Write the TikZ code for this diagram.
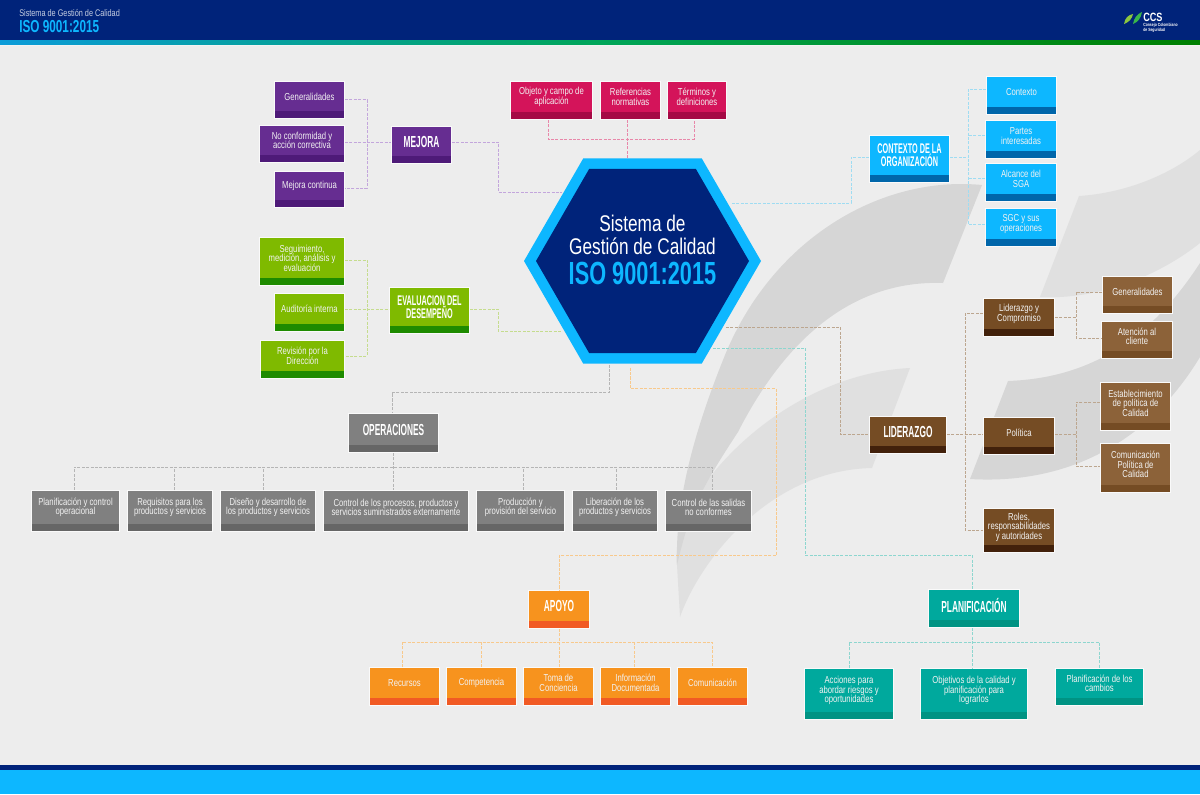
\documentclass[tikz,border=0pt]{standalone}
\usepackage{fontspec}
\usetikzlibrary{shapes.geometric, calc}
\setmainfont{Liberation Sans}
\newfontfamily\boxfont[FakeStretch=0.76]{Liberation Sans}
\newfontfamily\headfont[FakeStretch=0.52]{Liberation Sans}
\newfontfamily\hexfont[FakeStretch=0.76]{Liberation Sans}
\newfontfamily\isofont[FakeStretch=0.68]{Liberation Sans}
\definecolor{navy}{RGB}{0, 35, 122}
\definecolor{sky}{RGB}{13, 183, 255}
\definecolor{paper}{RGB}{237, 237, 237}
\definecolor{swooshdark}{RGB}{214, 214, 214}
\definecolor{swooshlight}{RGB}{224, 224, 224}
\definecolor{boxedge}{RGB}{250, 250, 250}
\definecolor{boxtext}{RGB}{242, 242, 242}
\definecolor{purplefill}{RGB}{102, 45, 145}
\definecolor{purpleband}{RGB}{78, 26, 120}
\definecolor{purpleline}{RGB}{195, 166, 220}
\definecolor{greenfill}{RGB}{127, 186, 0}
\definecolor{greenband}{RGB}{30, 139, 0}
\definecolor{greenline}{RGB}{197, 220, 142}
\definecolor{pinkfill}{RGB}{212, 20, 90}
\definecolor{pinkband}{RGB}{165, 10, 69}
\definecolor{pinkline}{RGB}{232, 135, 169}
\definecolor{skyband}{RGB}{0, 102, 170}
\definecolor{skyline}{RGB}{159, 220, 242}
\definecolor{brownfill}{RGB}{117, 76, 36}
\definecolor{brownband}{RGB}{66, 33, 11}
\definecolor{tanfill}{RGB}{140, 98, 57}
\definecolor{brownline}{RGB}{188, 166, 143}
\definecolor{grayfill}{RGB}{128, 128, 128}
\definecolor{grayband}{RGB}{102, 102, 102}
\definecolor{grayline}{RGB}{181, 181, 181}
\definecolor{orangefill}{RGB}{247, 147, 30}
\definecolor{orangeband}{RGB}{241, 90, 36}
\definecolor{orangeline}{RGB}{248, 201, 140}
\definecolor{tealfill}{RGB}{0, 169, 157}
\definecolor{tealband}{RGB}{0, 147, 131}
\definecolor{tealline}{RGB}{141, 214, 207}
\definecolor{logolime}{RGB}{140, 198, 63}
\definecolor{logogreen}{RGB}{57, 181, 74}

\begin{document}
\begin{tikzpicture}[x=0.75pt, y=-0.75pt,
    box/.style 2 args={anchor=north west, fill=#1, inner sep=0pt, outer sep=0pt, align=center,
                text=boxtext, font=\boxfont\fontsize{7.6}{7.2}\selectfont,
                append after command={\pgfextra{
                    \fill[boxedge] ([xshift=-0.5pt,yshift=0.5pt]\tikzlastnode.north west) rectangle ([xshift=0.5pt,yshift=-5.75pt]\tikzlastnode.south east);
                    \fill[#2] (\tikzlastnode.south west) rectangle ([yshift=-5.25pt]\tikzlastnode.south east);}}},
    wh/.style 2 args={minimum width=#1*0.75pt, minimum height=#2*0.75pt},
    head/.style={text=white, font=\headfont\bfseries\fontsize{12}{9.6}\selectfont},
    headtwo/.style={text=white, font=\headfont\bfseries\fontsize{10.5}{9.6}\selectfont},
    purplebox/.style={box={purplefill}{purpleband}},
    greenbox/.style={box={greenfill}{greenband}},
    pinkbox/.style={box={pinkfill}{pinkband}},
    skybox/.style={box={sky}{skyband}},
    brownbox/.style={box={brownfill}{brownband}},
    tanbox/.style={box={tanfill}{brownfill}},
    graybox/.style={box={grayfill}{grayband}},
    orangebox/.style={box={orangefill}{orangeband}},
    tealbox/.style={box={tealfill}{tealband}},
    link/.style={draw=#1, line width=0.65pt, dash pattern=on 2.3pt off 1pt},
    hexa/.style={regular polygon, regular polygon sides=6, inner sep=0pt, outer sep=0pt}]

    \useasboundingbox (0,0) rectangle (1200,794);

    % Background
    \fill[paper] (0,0) rectangle (1200,794);
    \fill[swooshlight] (1079,196) .. controls (1125,193) and (1170,175) .. (1200,150) -- (1200,243)
        .. controls (1160,275) and (1100,300) .. (1040,297) -- cycle;
    \fill[swooshdark] (1008,381) .. controls (1090,378) and (1150,340) .. (1200,263) -- (1200,357)
        .. controls (1150,440) and (1070,485) .. (970,479) -- cycle;
    \fill[swooshlight] (910,368) .. controls (830,372) and (750,420) .. (700,490)
        .. controls (680,520) and (675,550) .. (677,565) -- (680,617)
        .. controls (700,560) and (770,470) .. (872,468) -- cycle;
    \fill[swooshdark] (982,185) .. controls (880,175) and (770,240) .. (723,360)
        .. controls (695,430) and (675,500) .. (677,565)
        .. controls (690,510) and (700,490) .. (738,432)
        .. controls (790,330) and (860,280) .. (943,283) -- cycle;

    % Header and footer
    \fill[navy] (0,0) rectangle (1200,40);
    \shade[left color=sky!85!black, right color=green!50!black, middle color=teal!70!green] (0,40) rectangle (1200,45);
    \fill[white!95!black] (0,45) rectangle (1200,46);
    \fill[navy] (0,765) rectangle (1200,770);
    \fill[sky] (0,770) rectangle (1200,794);
    \node[anchor=west, inner sep=0pt, text=white!78!navy, font=\hexfont\fontsize{7.2}{7.2}\selectfont] (toptitle) at (19,13) {Sistema de Gestión de Calidad};
    \node[anchor=west, inner sep=0pt, text=sky, font=\isofont\bfseries\fontsize{13}{13}\selectfont] (topiso) at (19,26.5) {ISO 9001:2015};

    % Logo
    \fill[logolime] (1124,24) .. controls (1125,18) and (1128,15) .. (1133,14) .. controls (1132,19) and (1129,22) .. cycle;
    \fill[logogreen] (1133,24) .. controls (1134,18) and (1137,14) .. (1142,12) .. controls (1141,18) and (1138,22) .. cycle;
    \node[anchor=west, inner sep=0pt, text=white, font=\boxfont\bfseries\fontsize{9}{9}\selectfont] (logoccs) at (1143,17) {CCS};
    \node[anchor=north west, inner sep=0pt, align=left, text=white, font=\boxfont\bfseries\fontsize{3.4}{3.5}\selectfont] (logosub) at (1143,23) {Consejo Colombiano\\de Seguridad};

    % Hexagon
    \node[hexa, fill=sky, minimum size=237*0.75pt] (hexo) at (642.5,261) {};
    \node[hexa, fill=navy, minimum size=213*0.75pt] (hexi) at (642.5,261) {};
    \node[align=center, inner sep=0pt, text=white, font=\hexfont\fontsize{17}{17.2}\selectfont] (hextitle) at (642.5,234.5) {Sistema de\\Gestión de Calidad};
    \node[inner sep=0pt, text=sky, font=\isofont\bfseries\fontsize{24}{24}\selectfont] (hexiso) at (642.5,273) {ISO 9001:2015};

    % Mejora
    \node[purplebox, wh={69}{29}] (gen) at (275,82) {Generalidades};
    \node[purplebox, wh={84}{29}] (nocon) at (260,126) {No conformidad y\\acción correctiva};
    \node[purplebox, wh={69}{28}] (cont) at (275,172) {Mejora continua};
    \node[purplebox, head, wh={59}{29}] (mejora) at (392,127) {MEJORA};

    % Evaluacion
    \node[greenbox, wh={84}{40}] (seg) at (260,238) {Seguimiento,\\medición, análisis y\\evaluación};
    \node[greenbox, wh={69}{30}] (aud) at (275,294) {Auditoría interna};
    \node[greenbox, wh={83}{30}] (rev) at (261,341) {Revisión por la\\Dirección};
    \node[greenbox, headtwo, wh={79}{38}] (evalu) at (390,288) {EVALUACION DEL\\DESEMPEÑO};

    % Alcance
    \node[pinkbox, wh={81}{30}] (obj) at (511,82) {Objeto y campo de\\aplicación};
    \node[pinkbox, wh={59}{30}] (ref) at (601,82) {Referencias\\normativas};
    \node[pinkbox, wh={58}{30}] (ter) at (668,82) {Términos y\\definiciones};

    % Contexto
    \node[skybox, headtwo, wh={79}{39}] (contx) at (870,136) {CONTEXTO DE LA\\ORGANIZACIÓN};
    \node[skybox, wh={69}{30}] (ctxbase) at (987,77) {Contexto};
    \node[skybox, wh={70}{30}] (ctxpart) at (986,121) {Partes\\interesadas};
    \node[skybox, wh={70}{30}] (ctxalc) at (986,164) {Alcance del\\SGA};
    \node[skybox, wh={70}{30}] (ctxsgc) at (986,209) {SGC y sus\\operaciones};

    % Liderazgo
    \node[brownbox, head, wh={76}{29}] (lider) at (870,417) {LIDERAZGO};
    \node[brownbox, wh={70}{30}] (lyc) at (984,299) {Liderazgo y\\Compromiso};
    \node[brownbox, wh={70}{29}] (pol) at (984,418) {Política};
    \node[brownbox, wh={70}{36}] (roles) at (984,509) {Roles,\\responsabilidades\\y autoridades};
    \node[tanbox, wh={69}{29}] (lgen) at (1103,277) {Generalidades};
    \node[tanbox, wh={70}{29}] (lat) at (1102,322) {Atención al\\cliente};
    \node[tanbox, wh={69}{40}] (lest) at (1101,383) {Establecimiento\\de política de\\Calidad};
    \node[tanbox, wh={69}{41}] (lcom) at (1101,444) {Comunicación\\Política de\\Calidad};

    % Operaciones
    \node[graybox, head, wh={89}{31}] (oper) at (349,414) {OPERACIONES};
    \node[graybox, wh={87}{33}] (gpla) at (32,491) {Planificación y control\\operacional};
    \node[graybox, wh={84}{33}] (greq) at (128,491) {Requisitos para los\\productos y servicios};
    \node[graybox, wh={94}{33}] (gdis) at (221,491) {Diseño y desarrollo de\\los productos y servicios};
    \node[graybox, wh={144}{33}] (gctr) at (324,491) {Control de los procesos, productos y\\servicios suministrados externamente};
    \node[graybox, wh={87}{33}] (gpro) at (477,491) {Producción y\\provisión del servicio};
    \node[graybox, wh={84}{33}] (glib) at (573,491) {Liberación de los\\productos y servicios};
    \node[graybox, wh={85}{33}] (gsal) at (666,491) {Control de las salidas\\no conformes};

    % Apoyo
    \node[orangebox, head, wh={60}{30}] (apoyo) at (529,591) {APOYO};
    \node[orangebox, wh={69}{30}] (orec) at (370,668) {Recursos};
    \node[orangebox, wh={69}{30}] (ocomp) at (447,668) {Competencia};
    \node[orangebox, wh={69}{30}] (otoma) at (524,668) {Toma de\\Conciencia};
    \node[orangebox, wh={69}{30}] (oinf) at (601,668) {Información\\Documentada};
    \node[orangebox, wh={69}{30}] (ocom) at (678,668) {Comunicación};

    % Planificacion
    \node[tealbox, head, wh={90}{30}] (plan) at (929,590) {PLANIFICACIÓN};
    \node[tealbox, wh={88}{43}] (pacc) at (805,669) {Acciones para\\abordar riesgos y\\oportunidades};
    \node[tealbox, wh={106}{43}] (pobj) at (921,669) {Objetivos de la calidad y\\planificación para\\lograrlos};
    \node[tealbox, wh={87}{29}] (pcam) at (1056,669) {Planificación de los\\cambios};

    % Links
    \draw[link=purpleline] ($(gen.east)+(1,3)$) -- ++(22,0) |- ($(cont.east)+(1,2)$);
    \draw[link=purpleline] ($(nocon.east)+(1,1.5)$) -- ($(mejora.west)+(-1,0.5)$);
    \draw[link=purpleline] ($(mejora.east)+(1,0.5)$) -- ++(46,0) |- ($(hexo.center)+(-81,-69)$);

    \draw[link=greenline] ($(seg.east)+(1,2)$) -- ++(22,0) |- ($(rev.east)+(1,0)$);
    \draw[link=greenline] ($(aud.east)+(1,0)$) -- ($(evalu.west)+(-1,2)$);
    \draw[link=greenline] ($(evalu.east)+(1,2)$) -- ++(28,0) |- ($(hexo.center)+(-81,70)$);

    \draw[link=pinkline] ($(obj.south)+(-3.5,8)$) -- ++(0,19) -| ($(ter.south)+(-3,8)$);
    \draw[link=pinkline] ($(ref.south)+(-3.5,8)$) -- ($(hexo.north)+(-15.5,0)$);

    \draw[link=skyline] ($(hexo.center)+(89.5,-58)$) -- ++(119,0) |- ($(contx.west)+(-1,1.5)$);
    \draw[link=skyline] ($(contx.east)+(1,1.5)$) -- ++(18,0);
    \draw[link=skyline] ($(ctxbase.west)+(-1,-3)$) -- ++(-18,0) |- ($(ctxsgc.west)+(-1,0)$);
    \draw[link=skyline] ($(ctxpart.west)+(-1,-1)$) -- ++(-17,0);
    \draw[link=skyline] ($(ctxalc.west)+(-1,-1)$) -- ++(-17,0);

    \draw[link=brownline] ($(hexo.center)+(83.5,66)$) -- ++(114,0) |- ($(lider.west)+(-1,2.5)$);
    \draw[link=brownline] ($(lider.east)+(1,2.5)$) -- ($(pol.west)+(-1,1.5)$);
    \draw[link=brownline] ($(lyc.west)+(-1,-1)$) -- ++(-18,0) |- ($(roles.west)+(-1,3)$);
    \draw[link=brownline] ($(lyc.east)+(1,3)$) -- ++(21,0);
    \draw[link=brownline] ($(lgen.west)+(-1,0.5)$) -- ++(-26,0) |- ($(lat.west)+(-1,1.5)$);
    \draw[link=brownline] ($(pol.east)+(1,1.5)$) -- ++(21,0);
    \draw[link=brownline] ($(lest.west)+(-1,-1)$) -- ++(-24,0) |- ($(lcom.west)+(-1,1.5)$);

    \draw[link=grayline] ($(hexo.south)+(-33.5,1)$) -- ++(0,28) -| ($(oper.north)+(-1.5,-1)$);
    \draw[link=grayline] ($(oper.south)+(-0.5,8)$) -- ($(gctr.north)+(-3,-1)$);
    \draw[link=grayline] ($(gpla.north)+(-1.5,-1)$) -- ++(0,-23) -| ($(gsal.north)+(3.5,-1)$);
    \draw[link=grayline] ($(greq.north)+(4,-1)$) -- ++(0,-23);
    \draw[link=grayline] ($(gdis.north)+(-5,-1)$) -- ++(0,-23);
    \draw[link=grayline] ($(gpro.north)+(2.5,-1)$) -- ++(0,-23);
    \draw[link=grayline] ($(glib.north)+(1,-1)$) -- ++(0,-23);

    \draw[link=orangeline] ($(hexo.south)+(-12.5,4)$) -- ++(0,21) -- ++(146,0) -- ++(0,167) -| ($(apoyo.north)+(0,-1)$);
    \draw[link=orangeline] ($(apoyo.south)+(0,8)$) -- ($(otoma.north)+(0.5,-1)$);
    \draw[link=orangeline] ($(orec.north)+(-2.5,-1)$) -- ++(0,-25) -| ($(ocom.north)+(-0.5,-1)$);
    \draw[link=orangeline] ($(ocomp.north)+(-0.5,-1)$) -- ++(0,-25);
    \draw[link=orangeline] ($(oinf.north)+(-1.5,-1)$) -- ++(0,-25);

    \draw[link=tealline] ($(hexo.center)+(70.5,87)$) -- ++(92,0) -- ++(0,207) -| ($(plan.north)+(-2,-1)$);
    \draw[link=tealline] ($(plan.south)+(-2,8)$) -- ($(pobj.north)+(-2,-1)$);
    \draw[link=tealline] ($(pacc.north)+(0,-1)$) -- ++(0,-26) -| ($(pcam.north)+(0,-1)$);
\end{tikzpicture}
\end{document}
